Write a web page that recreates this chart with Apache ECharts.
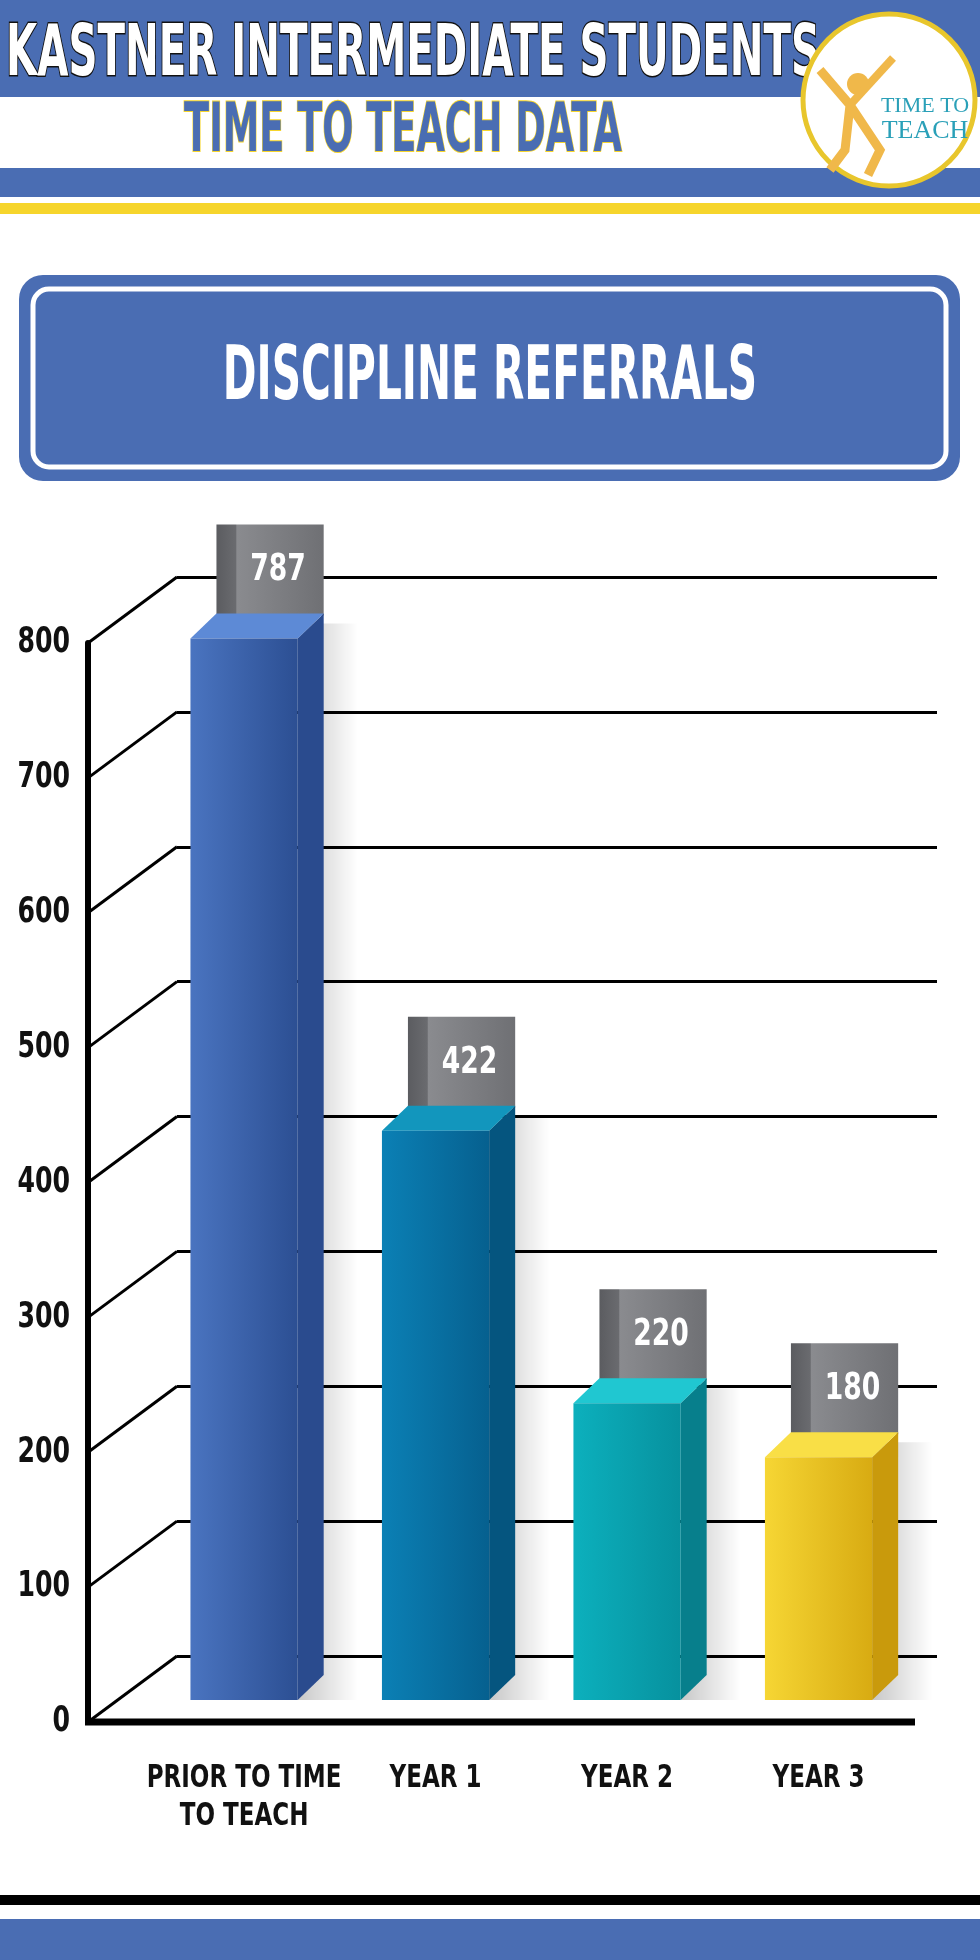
<!DOCTYPE html>
<html><head><meta charset="utf-8">
<script src="https://cdn.jsdelivr.net/npm/echarts@6/dist/echarts.min.js"></script>
<style>html,body{margin:0;padding:0;background:#fff}#c{width:980px;height:1960px}</style>
</head><body><div id="c"></div>
<script>
const categories = ['PRIOR TO TIME\nTO TEACH', 'YEAR 1', 'YEAR 2', 'YEAR 3'];
const values = [787, 422, 220, 180];
const yTicks = [0, 100, 200, 300, 400, 500, 600, 700, 800];
const title = 'KASTNER INTERMEDIATE STUDENTS';
const subtitle = 'TIME TO TEACH DATA';
const panelTitle = 'DISCIPLINE REFERRALS';

const FONT = "'DejaVu Sans',sans-serif";
const palettes = [
  {front:['#4a74c0','#2c4f93'], side:'#2a4b8e', top:'#5d8ad6'},
  {front:['#0b80b5','#06608f'], side:'#05557f', top:'#1296bd'},
  {front:['#0cb0bd','#07919e'], side:'#077f8c', top:'#20c7d1'},
  {front:['#f6d634','#d8ab12'], side:'#c99a0c', top:'#f9df46'}
];
const XMIN = -0.815, XMAX = 3.488;
const DX = 89, DY = -66;

const chart = echarts.init(document.getElementById('c'), null, {renderer:'canvas'});

function barItem(params, api){
  const i = params.dataIndex, v = api.value(1);
  const p0 = api.coord([i, 0]), p1 = api.coord([i, v]);
  const hw = api.size([1, 0])[0] * 0.28;
  const L = p0[0] - hw, R = p0[0] + hw;
  const B = p0[1] - 22, T = p1[1] - 22;
  const dx = 26, dy = -25;
  const pal = palettes[i];
  const bx = L + dx, by = T - 114, bw = R - L, bh = 114 + dy + 2;
  return {type:'group', children:[
    {type:'rect', shape:{x:R, y:T+dy+10, width:60, height:B-T-dy-10},
      style:{fill:new echarts.graphic.LinearGradient(0,0,1,0,[{offset:0,color:'rgba(0,0,0,0.22)'},{offset:1,color:'rgba(0,0,0,0)'}])}},
    {type:'rect', shape:{x:bx, y:by, width:bw, height:bh},
      style:{fill:new echarts.graphic.LinearGradient(0,0,1,0,[{offset:0,color:'#5b5c60'},{offset:0.18,color:'#6a6b6f'},{offset:0.19,color:'#8a8b8f'},{offset:1,color:'#6f7074'}])}},
    {type:'text', x:bx + bw/2 + 8, y:by + 46, scaleX:0.7, style:{text:String(v), x:0, y:0, align:'center', verticalAlign:'middle',
      fill:'#fff', font:'bold 38px ' + FONT}},
    {type:'polygon', shape:{points:[[R,T],[R+dx,T+dy],[R+dx,B+dy],[R,B]]}, style:{fill:pal.side}},
    {type:'polygon', shape:{points:[[L,T],[L+dx,T+dy],[R+dx,T+dy],[R,T]]}, style:{fill:pal.top}},
    {type:'rect', shape:{x:L, y:T, width:R-L, height:B-T},
      style:{fill:new echarts.graphic.LinearGradient(0,0,1,0,[{offset:0,color:pal.front[0]},{offset:1,color:pal.front[1]}])}},
    {type:'text', x:p0[0], y:1760, scaleX:0.72, style:{text:categories[i], x:0, y:0, align:'center', verticalAlign:'top',
      fill:'#111', font:'bold 32px ' + FONT, lineHeight:38}}
  ]};
}

function diagItem(params, api){
  const v = api.value(0);
  const p = api.coord([XMIN, v]);
  return {type:'group', children:[
    {type:'line', shape:{x1:p[0], y1:p[1], x2:p[0]+DX, y2:p[1]+DY}, style:{stroke:'#000', lineWidth:3}},
    {type:'text', x:p[0]-18, y:p[1], scaleX:0.7, style:{text:String(v), x:0, y:0, align:'right', verticalAlign:'middle',
      fill:'#111', font:'bold 36px ' + FONT}}
  ]};
}

chart.setOption({
  animation:false,
  grid:[
    {left:88, top:643, width:824, height:1079},
    {left:177, top:577, width:760, height:1079}
  ],
  xAxis:[
    {type:'value', gridIndex:0, min:XMIN, max:XMAX, show:false},
    {type:'value', gridIndex:1, min:0, max:1, show:false}
  ],
  yAxis:[
    {type:'value', gridIndex:0, min:0, max:800, interval:100,
     axisLine:{show:true, onZero:false, lineStyle:{color:'#000', width:6}}, axisTick:{show:false},
     splitLine:{show:false}, axisLabel:{show:false}},
    {type:'value', gridIndex:1, min:0, max:800, interval:100,
     axisLine:{show:false}, axisTick:{show:false}, axisLabel:{show:false},
     splitLine:{show:true, lineStyle:{color:'#000', width:3}}}
  ],
  graphic:[
    {type:'rect', shape:{x:0,y:0,width:980,height:97}, style:{fill:'#4a6db3'}},
    {type:'rect', shape:{x:0,y:168,width:980,height:29}, style:{fill:'#4a6db3'}},
    {type:'rect', shape:{x:0,y:203,width:980,height:11}, style:{fill:'#f6d52c'}},
    {type:'text', x:6, y:56, scaleX:0.56, style:{text:title, fill:'#fff', stroke:'#111', lineWidth:3,
      font:'bold 72px ' + FONT, verticalAlign:'middle'}},
    {type:'text', x:403, y:133, scaleX:0.54, style:{text:subtitle, fill:'#4a6db3', stroke:'#f6d52c', lineWidth:2,
      font:'bold 68px ' + FONT, align:'center', verticalAlign:'middle'}},
    {type:'circle', shape:{cx:889, cy:100, r:86}, style:{fill:'#fff', stroke:'#e8c62c', lineWidth:5}},
    {type:'circle', shape:{cx:858, cy:84, r:11}, style:{fill:'#f0b84a'}},
    {type:'polyline', shape:{points:[[820,70],[850,105],[845,150],[830,170]]}, style:{stroke:'#f0b84a', lineWidth:9, fill:null}},
    {type:'polyline', shape:{points:[[850,105],[880,150],[868,175]]}, style:{stroke:'#f0b84a', lineWidth:9, fill:null}},
    {type:'polyline', shape:{points:[[850,105],[893,58]]}, style:{stroke:'#f0b84a', lineWidth:8, fill:null}},
    {type:'text', x:925, y:95, style:{text:'TIME TO', fill:'#2aa0b8', font:'22px serif', align:'center'}},
    {type:'text', x:925, y:118, style:{text:'TEACH', fill:'#2aa0b8', font:'26px serif', align:'center'}},
    {type:'rect', shape:{x:19,y:275,width:941,height:206,r:24}, style:{fill:'#4a6db3'}},
    {type:'rect', shape:{x:33,y:289,width:913,height:178,r:16}, style:{fill:'#4a6db3', stroke:'#fff', lineWidth:5}},
    {type:'text', x:490, y:380, scaleX:0.55, style:{text:panelTitle, fill:'#fff', font:'bold 74px ' + FONT,
      align:'center', verticalAlign:'middle'}},
    {type:'rect', shape:{x:0,y:1895,width:980,height:10}, style:{fill:'#000'}},
    {type:'rect', shape:{x:0,y:1919,width:980,height:41}, style:{fill:'#4a6db3'}},
    {type:'line', shape:{x1:85,y1:1722,x2:915,y2:1722}, style:{stroke:'#000', lineWidth:7}}
  ],
  series:[
    {type:'custom', xAxisIndex:0, yAxisIndex:0, renderItem:diagItem, data:yTicks.map(v=>[v]), z:2},
    {type:'custom', xAxisIndex:0, yAxisIndex:0, renderItem:barItem, data:values.map((v,i)=>[i,v]), z:5}
  ]
});
</script></body></html>
